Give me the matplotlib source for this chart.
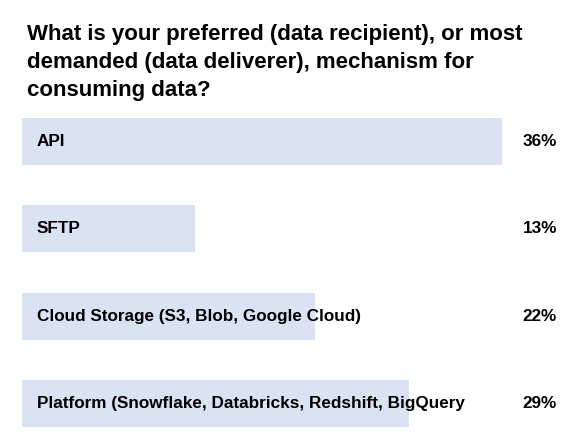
import matplotlib.pyplot as plt

# survey answers
options = ['API', 'SFTP', 'Cloud Storage (S3, Blob, Google Cloud)',
           'Platform (Snowflake, Databricks, Redshift, BigQuery']
shares = [36, 13, 22, 29]

title = ('What is your preferred (data recipient), or most\n'
         'demanded (data deliverer), mechanism for\n'
         'consuming data?')

plt.rcParams['font.family'] = ['Liberation Sans', 'DejaVu Sans']

fig = plt.figure(figsize=(5.85, 4.48), dpi=100)
ax = fig.add_axes([22 / 585, 1 / 448, 563 / 585, 349 / 448])

ypos = range(len(options))
ax.barh(ypos, shares, height=0.54, color='#DAE3F3')
ax.set_xlim(0, 563 / 480 * 36)
ax.set_ylim(len(options) - 0.5, -0.5)

for y, name, v in zip(ypos, options, shares):
    ax.text(15 / 480 * 36, y, name, va='center', ha='left',
            fontsize=12.3, fontweight='bold', color='black')
    ax.text(535 / 563, y, f'{v}%', transform=ax.get_yaxis_transform(),
            va='center', ha='right', fontsize=12.3, fontweight='bold')

ax.axis('off')

fig.text(27 / 585, 1 - 24 / 448, title, ha='left', va='top',
         fontsize=16, fontweight='bold', linespacing=1.45)

fig.savefig('out.png', dpi=100)
